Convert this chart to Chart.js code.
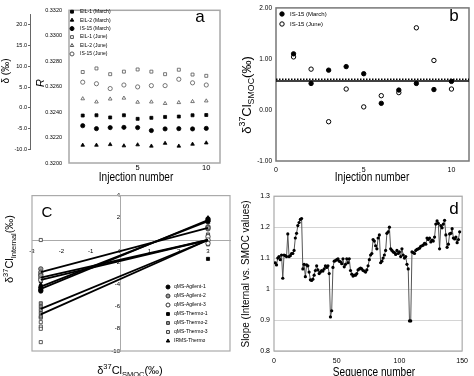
<!DOCTYPE html>
<html>
<head>
<meta charset="utf-8">
<script src="https://cdn.jsdelivr.net/npm/chart.js@4.4.1/dist/chart.umd.min.js"></script>
<style>
body { margin: 0; background: #fff; }
#wrap { position: relative; width: 474px; height: 376px; overflow: hidden; font-family: "Liberation Sans", Arial, sans-serif; }
.pane { position: absolute; width: 237px; height: 188px; }
.t { position: absolute; white-space: nowrap; color: #000; line-height: 1; }
.rot { transform: translate(-50%, -50%) rotate(-90deg); }
.hz { transform: translate(-50%, -50%) scaleX(0.84); }
.mid { transform: translate(-50%, -50%); }
sub, sup { font-size: 68%; line-height: 0; }
</style>
</head>
<body>
<div id="wrap">
  <div class="pane" style="left:0;top:0"><canvas id="ca" width="237" height="188"></canvas></div>
  <div class="pane" style="left:237px;top:0"><canvas id="cb" width="237" height="188"></canvas></div>
  <div class="pane" style="left:0;top:188px"><canvas id="cc" width="237" height="188"></canvas></div>
  <div class="pane" style="left:237px;top:188px"><canvas id="cd" width="237" height="188"></canvas></div>

  <!-- panel a -->
  <div class="t mid" style="left:200px;top:16px;font-size:17px">a</div>
  <div class="t rot" style="left:6px;top:71px;font-size:10px">δ (‰)</div>
  <div class="t rot" style="left:40px;top:83px;font-size:11px;font-style:italic">R</div>
  <div class="t hz" style="left:136px;top:177px;font-size:12px">Injection number</div>
  <!-- panel b -->
  <div class="t mid" style="left:454px;top:15px;font-size:17px">b</div>
  <div class="t rot" style="left:246px;top:95px;font-size:13px">δ<sup>37</sup>Cl<sub>SMOC</sub>(‰)</div>
  <div class="t hz" style="left:372px;top:177px;font-size:12px">Injection number</div>
  <!-- panel c -->
  <div class="t mid" style="left:47px;top:211px;font-size:15px">C</div>
  <div class="t rot" style="left:9px;top:249px;font-size:11px">δ<sup>37</sup>Cl<sub>Internal</sub>(‰)</div>
  <div class="t mid" style="left:130px;top:370px;font-size:11px">δ<sup>37</sup>Cl<sub>SMOC</sub>(‰)</div>
  <!-- panel d -->
  <div class="t mid" style="left:454px;top:208px;font-size:17px">d</div>
  <div class="t" style="left:245px;top:274px;font-size:11px;transform:translate(-50%,-50%) rotate(-90deg) scaleX(0.9)">Slope (Internal vs. SMOC values)</div>
  <div class="t hz" style="left:374px;top:372px;font-size:12px">Sequence number</div>
</div>

<script>
Chart.defaults.font.family = '"Liberation Sans", Arial, Helvetica, sans-serif';
Chart.defaults.color = '#000';
Chart.defaults.animation = false;
Chart.defaults.plugins.legend.display = false;
Chart.defaults.plugins.tooltip.enabled = false;

// ---- panel a: ratio R per injection
const injections = [1, 2, 3, 4, 5, 6, 7, 8, 9, 10];
const eil1March = [0.32373, 0.32375, 0.32358, 0.32375, 0.32347, 0.32355, 0.32362, 0.32365, 0.32375, 0.32377];
const eil2March = [0.32140, 0.32140, 0.32145, 0.32135, 0.32143, 0.32133, 0.32155, 0.32133, 0.32148, 0.32158];
const is15March = [0.32293, 0.32270, 0.32278, 0.32280, 0.32278, 0.32255, 0.32268, 0.32270, 0.32268, 0.32272];
const eil1June = [0.32715, 0.32743, 0.32698, 0.32718, 0.32735, 0.32718, 0.32698, 0.32733, 0.32695, 0.32685];
const eil2June = [0.32505, 0.32480, 0.32503, 0.32510, 0.32478, 0.32480, 0.32468, 0.32475, 0.32483, 0.32488];
const is15June = [0.32635, 0.32623, 0.32585, 0.32613, 0.32598, 0.32608, 0.32608, 0.32658, 0.32630, 0.32613];
const rTicks = [0.320, 0.322, 0.324, 0.326, 0.328, 0.330, 0.332];
const deltaTicks = [-10, -5, 0, 5, 10, 15, 20];
const injTicksA = [5, 10];

// ---- panel b: IS-15 delta values
const is15MarchB = [1.10, 0.52, 0.78, 0.85, 0.71, 0.13, 0.39, 0.52, 0.40, 0.56];
const is15JuneB = [1.04, 0.80, -0.23, 0.41, 0.06, 0.28, 0.34, 1.61, 0.97, 0.41];
const refLevelsB = [0.57, 0.60];
const injTicksB = [0, 5, 10];
const deltaTicksB = [-1, 0, 1, 2];

// ---- panel c: internal vs SMOC calibration
const smocX = [-2.7, 3.0];
const instruments = ['qMS-Agilent-1', 'qMS-Agilent-2', 'qMS-Agilent-3', 'qMS-Thermo-1', 'qMS-Thermo-2', 'qMS-Thermo-3', 'IRMS-Thermo'];
const lowStd = [
    [-4.3, -4.5, -4.6],
    [-2.6, -2.9, -3.2],
    [-3.1, -3.4, -3.6],
    [-3.5, -3.7],
    [-5.7, -6.0, -6.3, -6.6, -6.9],
    [0.0, -7.0, -7.4, -7.8, -8.0, -9.2],
    [-4.0, -4.2, -4.4, -4.1]
];
const highStd = [
    [1.7, 1.9, 1.8],
    [1.0, 1.2, 1.1],
    [0.3, 0.0, -0.3],
    [0.2, -0.1, -1.7],
    [0.5, 0.1, -0.2, -0.4],
    [0.4, 0.0, -0.3],
    [1.6, 1.8, 2.0]
];
const fitEnds = [[-4.4, 1.8], [-2.9, 1.1], [-3.4, 0.0], [-3.6, 0.0], [-6.2, 0.0], [-6.7, 0.0], [-4.2, 1.7]];
const smocTicks = [-3, -2, -1, 0, 1, 2, 3];
const internalTicks = [-10, -8, -6, -4, -2, 2, 4];

// ---- panel d: slope per sequence
const slopes = [
    1.085, 1.078, 1.100, 1.105, 1.095, 1.110, 1.035, 1.110, 1.108, 1.105,
    1.178, 1.105, 1.108, 1.115, 1.115, 1.125, 1.165, 1.180, 1.205, 1.215,
    1.225, 1.228, 1.065, 1.080, 1.040, 1.078, 1.075, 1.055, 1.030, 1.028,
    1.032, 1.045, 1.060, 1.075, 1.062, 1.050, 1.055, 1.060, 1.058, 1.065,
    1.075, 1.070, 1.075, 1.050, 0.910, 0.930, 1.070, 1.090, 1.092, 1.095,
    1.098, 1.090, 1.088, 1.082, 1.098, 1.072, 1.080, 1.098, 1.085, 1.098,
    1.060, 1.048, 1.042, 1.045, 1.045, 1.050, 1.062, 1.065, 1.068, 1.065,
    1.060, 1.058, 1.055, 1.062, 1.075, 1.095, 1.110, 1.115, 1.160, 1.155,
    1.140, 1.130, 1.165, 1.175, 1.085, 1.090, 1.100, 1.110, 1.125, 1.180,
    1.185, 1.200, 1.130, 1.125, 1.120, 1.118, 1.112, 1.125, 1.115, 1.120,
    1.105, 1.130, 1.110, 1.100, 1.105, 1.080, 1.065, 0.897, 0.897, 1.120,
    1.118, 1.115, 1.125, 1.128, 1.130, 1.132, 1.138, 1.140, 1.142, 1.148,
    1.145, 1.165, 1.160, 1.165, 1.152, 1.158, 1.155, 1.168, 1.210, 1.220,
    1.212, 1.130, 1.205, 1.198, 1.210, 1.222, 1.175, 1.135, 1.145, 1.178,
    1.180, 1.195, 1.165, 1.162, 1.168, 1.150, 1.160, 1.185
];
const seqTicks = [0, 50, 100, 150];
const slopeTicks = [0.8, 0.9, 1.0, 1.1, 1.2, 1.3];

// helpers
function fixTicks(list) {
    return scale => { scale.ticks = list.map(v => ({ value: v })); };
}

// no grid, no tick marks (tick length would otherwise push labels away)
const noGrid = { display: false, drawTicks: false };

function marker(ctx, style, x, y, r, fill, stroke) {
    ctx.save();
    ctx.fillStyle = fill;
    ctx.strokeStyle = stroke;
    ctx.lineWidth = 1;
    Chart.helpers.drawPoint(ctx, { pointStyle: style, radius: r, rotation: 0, borderWidth: 1 }, x, y);
    ctx.restore();
}

const framePlugin = {
    id: 'frame',
    beforeDatasetsDraw(chart, args, opts) {
        const a = chart.chartArea;
        const ctx = chart.ctx;
        ctx.save();
        ctx.strokeStyle = opts.color || '#999';
        ctx.lineWidth = opts.width || 1;
        ctx.strokeRect(a.left, a.top, a.right - a.left, a.bottom - a.top);
        ctx.restore();
    }
};

const boxLegend = {
    id: 'boxLegend',
    afterDraw(chart, args, opts) {
        if (!opts.items) return;
        const ctx = chart.ctx;
        ctx.save();
        opts.items.forEach((it, i) => {
            const y = opts.y + i * opts.step;
            marker(ctx, it.pointStyle, opts.x, y, opts.r, it.fill, it.stroke);
            ctx.font = opts.size + 'px "Liberation Sans", Arial, sans-serif';
            ctx.textBaseline = 'middle';
            ctx.fillStyle = '#000';
            ctx.fillText(it.label, opts.x + opts.gap, y);
        });
        ctx.restore();
    }
};

// ---------- panel a ----------
const seriesA = [
    { label: 'EIL-1 (March)', data: eil1March, pointStyle: 'rect', fill: '#000', stroke: '#000' },
    { label: 'EIL-2 (March)', data: eil2March, pointStyle: 'triangle', fill: '#000', stroke: '#000' },
    { label: 'IS-15 (March)', data: is15March, pointStyle: 'circle', fill: '#000', stroke: '#000' },
    { label: 'EIL-1 (June)', data: eil1June, pointStyle: 'rect', fill: '#fff', stroke: '#555' },
    { label: 'EIL-2 (June)', data: eil2June, pointStyle: 'triangle', fill: '#fff', stroke: '#555' },
    { label: 'IS-15 (June)', data: is15June, pointStyle: 'circle', fill: '#fff', stroke: '#555' }
];

const deltaLine = {
    id: 'deltaLine',
    afterDraw(chart) {
        const s = chart.scales.yd;
        const ctx = chart.ctx;
        ctx.save();
        ctx.strokeStyle = '#666';
        ctx.lineWidth = 1;
        ctx.beginPath();
        ctx.moveTo(s.right - 0.5, s.getPixelForValue(22.5));
        ctx.lineTo(s.right - 0.5, s.getPixelForValue(-10));
        ctx.stroke();
        ctx.restore();
    }
};

new Chart(document.getElementById('ca'), {
    type: 'scatter',
    data: {
        datasets: seriesA.map(s => ({
            label: s.label,
            data: injections.map((n, i) => ({ x: n, y: s.data[i] })),
            pointStyle: s.pointStyle,
            pointRadius: 2.1,
            pointBackgroundColor: s.fill,
            pointBorderColor: s.stroke,
            pointBorderWidth: 0.8
        }))
    },
    options: {
        responsive: false,
        layout: { padding: { left: 0, right: 17, top: 3, bottom: 0 } },
        scales: {
            x: {
                type: 'linear', min: 0, max: 11,
                afterBuildTicks: fixTicks(injTicksA),
                grid: noGrid, border: { display: false },
                ticks: { font: { size: 7.5 }, padding: 0 },
                afterFit: s => { s.height = 25; }
            },
            y: {
                type: 'linear', min: 0.320, max: 0.332, position: 'left', weight: 0,
                afterBuildTicks: fixTicks(rTicks),
                grid: noGrid, border: { display: false },
                ticks: { font: { size: 5.5 }, padding: 7, callback: v => v.toFixed(4) },
                afterFit: s => { s.width = 38; }
            },
            yd: {
                type: 'linear', min: -13.2, max: 23.4, position: 'left', weight: 1,
                afterBuildTicks: fixTicks(deltaTicks),
                grid: { display: true, drawOnChartArea: false, tickLength: 3, color: '#666' },
                border: { display: false },
                ticks: { font: { size: 5.5 }, padding: 1, callback: v => v.toFixed(1) },
                afterFit: s => { s.width = 31; }
            }
        },
        plugins: {
            frame: { color: '#a8a8a8', width: 1.5 },
            boxLegend: { items: seriesA, x: 72, y: 11.7, step: 8.45, r: 2, gap: 8, size: 5 }
        }
    },
    plugins: [framePlugin, boxLegend, deltaLine]
});

// ---------- panel b ----------
const seriesB = [
    { label: 'IS-15 (March)', data: is15MarchB, pointStyle: 'circle', fill: '#000', stroke: '#000' },
    { label: 'IS-15 (June)', data: is15JuneB, pointStyle: 'circle', fill: '#fff', stroke: '#000' }
];

new Chart(document.getElementById('cb'), {
    type: 'scatter',
    data: {
        datasets: [
            ...refLevelsB.map((lvl, i) => ({
                type: 'line',
                data: [{ x: 0, y: lvl }, { x: 11, y: lvl }],
                borderColor: '#000',
                borderWidth: 1.5,
                borderDash: i === 0 ? [] : [1.5, 1.5],
                pointRadius: 0,
                order: 2
            })),
            ...seriesB.map(s => ({
                label: s.label,
                data: injections.map((n, i) => ({ x: n, y: s.data[i] })),
                pointStyle: s.pointStyle,
                pointRadius: 2.2,
                pointBackgroundColor: s.fill,
                pointBorderColor: s.stroke,
                pointBorderWidth: 1,
                order: 1
            }))
        ]
    },
    options: {
        responsive: false,
        layout: { padding: { left: 0, right: 5, top: 3, bottom: 0 } },
        scales: {
            x: {
                type: 'linear', min: 0, max: 11,
                afterBuildTicks: fixTicks(injTicksB),
                grid: noGrid, border: { display: false },
                ticks: { font: { size: 7 }, padding: 5 },
                afterFit: s => { s.height = 27; }
            },
            y: {
                type: 'linear', min: -1, max: 2,
                afterBuildTicks: fixTicks(deltaTicksB),
                grid: noGrid, border: { display: false },
                ticks: { font: { size: 6.5 }, padding: 4, callback: v => v.toFixed(2) },
                afterFit: s => { s.width = 39; }
            }
        },
        plugins: {
            frame: { color: '#777', width: 1.5 },
            boxLegend: { items: seriesB, x: 45, y: 14, step: 10, r: 2.2, gap: 8, size: 6 }
        }
    },
    plugins: [framePlugin, boxLegend]
});

// ---------- panel c ----------
const stylesC = [
    { pointStyle: 'circle', fill: '#000', stroke: '#000' },
    { pointStyle: 'circle', fill: '#999', stroke: '#333' },
    { pointStyle: 'circle', fill: '#fff', stroke: '#333' },
    { pointStyle: 'rect', fill: '#000', stroke: '#000' },
    { pointStyle: 'rect', fill: '#999', stroke: '#333' },
    { pointStyle: 'rect', fill: '#fff', stroke: '#333' },
    { pointStyle: 'triangle', fill: '#000', stroke: '#000' }
];
const legendC = instruments.map((name, i) => Object.assign({ label: name }, stylesC[i]));

new Chart(document.getElementById('cc'), {
    type: 'scatter',
    data: {
        datasets: [
            ...fitEnds.map(f => ({
                type: 'line',
                data: [{ x: smocX[0], y: f[0] }, { x: smocX[1], y: f[1] }],
                borderColor: '#000',
                borderWidth: 1.8,
                pointRadius: 0,
                order: 0
            })),
            ...instruments.map((name, i) => ({
                label: name,
                data: lowStd[i].map(v => ({ x: smocX[0], y: v }))
                    .concat(highStd[i].map(v => ({ x: smocX[1], y: v }))),
                pointStyle: stylesC[i].pointStyle,
                pointRadius: 2.2,
                pointBackgroundColor: stylesC[i].fill,
                pointBorderColor: stylesC[i].stroke,
                pointBorderWidth: 0.8,
                order: 1
            }))
        ]
    },
    options: {
        responsive: false,
        layout: { padding: { left: 32, right: 7, top: 4, bottom: 25 } },
        scales: {
            x: {
                type: 'linear', min: -3, max: 3.75, position: { y: 0 },
                afterBuildTicks: fixTicks(smocTicks),
                grid: noGrid, border: { display: true, color: '#aaa', width: 1 },
                ticks: { font: { size: 6 }, padding: 8 }
            },
            y: {
                type: 'linear', min: -10, max: 4, position: { x: 0 },
                afterBuildTicks: fixTicks(internalTicks),
                grid: noGrid, border: { display: true, color: '#aaa', width: 1 },
                ticks: { font: { size: 6 }, padding: 4 }
            }
        },
        plugins: {
            frame: { color: '#aaa', width: 1.2 },
            boxLegend: { items: legendC, x: 168, y: 99, step: 9, r: 2, gap: 6, size: 5 }
        }
    },
    plugins: [framePlugin, boxLegend]
});

// ---------- panel d ----------
new Chart(document.getElementById('cd'), {
    type: 'line',
    data: {
        datasets: [{
            data: slopes.map((v, i) => ({ x: i + 1, y: v })),
            borderColor: '#555',
            borderWidth: 1,
            pointRadius: 1.6,
            pointBackgroundColor: '#000',
            pointBorderWidth: 0,
            tension: 0
        }]
    },
    options: {
        responsive: false,
        layout: { padding: { left: 0, right: 5, top: 5, bottom: 0 } },
        scales: {
            x: {
                type: 'linear', min: 0, max: 150,
                afterBuildTicks: fixTicks(seqTicks),
                grid: noGrid, border: { display: false },
                ticks: { font: { size: 7 }, padding: 6 },
                afterFit: s => { s.height = 25; }
            },
            y: {
                type: 'linear', min: 0.8, max: 1.3,
                afterBuildTicks: fixTicks(slopeTicks),
                grid: { color: '#d4d4d4', drawTicks: false }, border: { display: false },
                ticks: { font: { size: 7 }, padding: 4, callback: v => String(Number(v.toFixed(1))) },
                afterFit: s => { s.width = 37; }
            }
        },
        plugins: {
            frame: { color: '#aaa', width: 1.2 }
        }
    },
    plugins: [framePlugin]
});
</script>
</body>
</html>
